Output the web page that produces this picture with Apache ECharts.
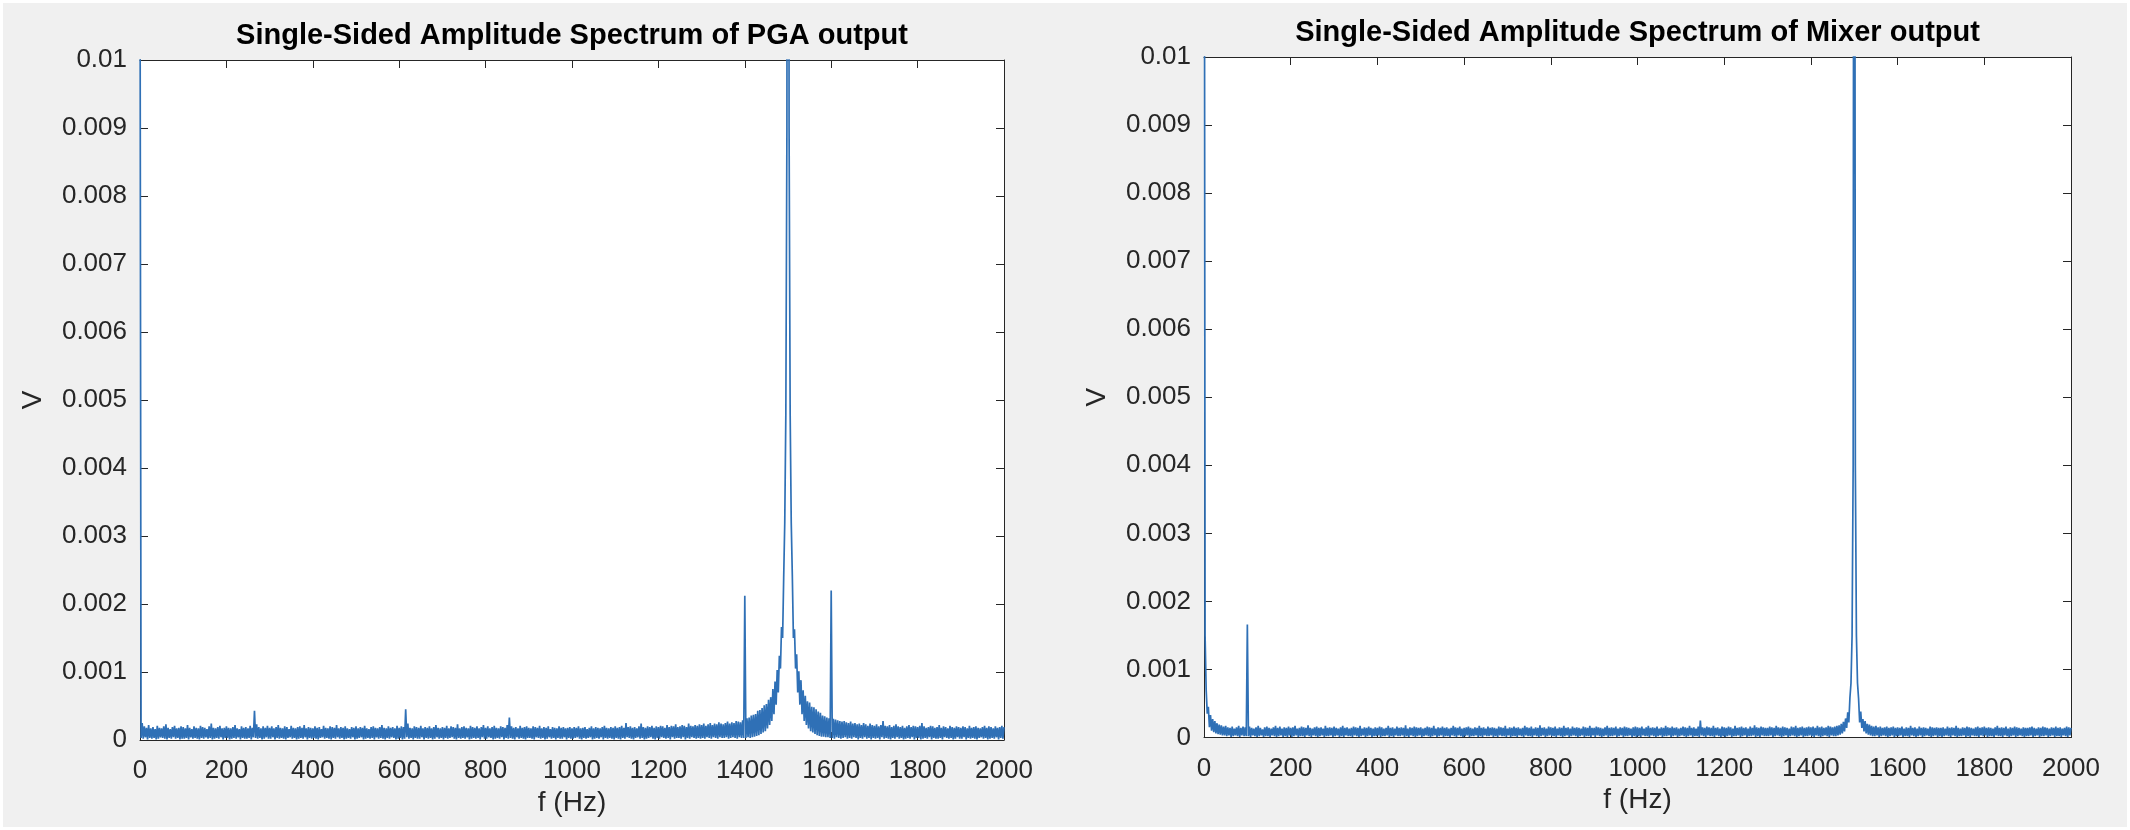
<!DOCTYPE html>
<html>
<head>
<meta charset="utf-8">
<script src="https://cdn.jsdelivr.net/npm/echarts@6/dist/echarts.min.js"></script>
<style>
html,body{margin:0;padding:0;background:#ffffff;width:2130px;height:830px;overflow:hidden;}
#c{position:absolute;left:3px;top:3px;width:2124px;height:824px;}
</style>
</head>
<body>
<div id="c"></div>
<script>
// ---------- chart texts and ticks ----------
const titles = ['Single-Sided Amplitude Spectrum of PGA output', 'Single-Sided Amplitude Spectrum of Mixer output'];
const xName = 'f (Hz)';
const yName = 'V';
const xTicks = [0, 200, 400, 600, 800, 1000, 1200, 1400, 1600, 1800, 2000];
const xTickLabels = ['0', '200', '400', '600', '800', '1000', '1200', '1400', '1600', '1800', '2000'];
const yTickLabels = ['0', '0.001', '0.002', '0.003', '0.004', '0.005', '0.006', '0.007', '0.008', '0.009', '0.01'];

// ---------- spectrum values, unit = 1e-5 V ----------
// "Upper" = local maxima of the noisy spectrum at f = 0, 5, 10 ... 2000 Hz
// "Lower" = local minima between them, at f = 2.5, 7.5 ... 1997.5 Hz
const freqStep = 5;
const UNIT = 1e-5;

const pgaUpper = [
  1200, 25, 20, 18, 22, 17, 19, 16, 21, 18, 17, 20, 23, 18, 16, 19, 21, 17, 18, 20,
  19, 17, 22, 18, 16, 20, 18, 17, 21, 19, 18, 16, 20, 24, 18, 17, 19, 21, 17, 18,
  20, 18, 17, 19, 22, 17, 16, 20, 18, 19, 17, 21, 18, 43, 23, 19, 17, 20, 18, 21,
  18, 20, 17, 19, 22, 18, 17, 20, 19, 16, 21, 18, 17, 19, 20, 18, 22, 17, 19, 18,
  17, 20, 18, 19, 16, 21, 18, 17, 20, 19, 18, 22, 17, 19, 18, 20, 17, 16, 19, 18,
  20, 17, 19, 18, 21, 17, 16, 19, 20, 18, 17, 19, 22, 18, 17, 20, 18, 19, 17, 21,
  18, 20, 19, 45, 24, 18, 17, 20, 19, 18, 21, 17, 19, 18, 20, 17, 19, 22, 18, 17,
  19, 18, 21, 17, 20, 19, 18, 23, 17, 19, 20, 18, 17, 21, 19, 18, 20, 17, 19, 22,
  18, 20, 17, 19, 21, 18, 17, 20, 19, 18, 22, 33, 20, 18, 19, 17, 21, 18, 19, 20,
  18, 17, 20, 19, 18, 21, 17, 19, 18, 20, 16, 19, 18, 17, 20, 18, 19, 17, 18, 19,
  17, 19, 18, 20, 17, 18, 19, 16, 18, 20, 17, 19, 18, 17, 19, 21, 18, 17, 19, 18,
  20, 18, 19, 21, 18, 25, 19, 20, 18, 19, 17, 20, 24, 19, 18, 20, 19, 21, 18, 20,
  19, 21, 20, 18, 22, 19, 21, 20, 23, 19, 20, 22, 21, 19, 24, 21, 20, 22, 21, 23,
  22, 24, 21, 23, 25, 22, 24, 23, 26, 24, 23, 25, 27, 24, 26, 25, 28, 27, 26, 29,
  212, 32, 33, 36, 37, 38, 43, 44, 47, 51, 53, 59, 63, 75, 86, 103, 124, 166, 238, 480,
  3000, 480, 242, 163, 126, 101, 88, 73, 65, 57, 55, 49, 48, 45, 42, 40, 36, 35, 33, 32,
  220, 31, 30, 29, 28, 27, 28, 26, 25, 27, 24, 25, 23, 24, 22, 25, 23, 21, 24, 22,
  21, 23, 20, 22, 28, 21, 20, 22, 19, 21, 23, 20, 19, 21, 18, 20, 22, 19, 21, 20,
  19, 21, 25, 20, 18, 19, 21, 20, 18, 19, 22, 18, 20, 19, 17, 21, 19, 18, 20, 19,
  18, 20, 19, 17, 21, 18, 19, 20, 18, 17, 19, 21, 18, 20, 19, 17, 20, 18, 19, 21,
  19
];
const pgaLower = [
  3, 2, 4, 1, 3, 2, 3, 1, 2, 4, 3, 2, 1, 3, 2, 4, 2, 3, 1, 2,
  2, 3, 1, 4, 2, 3, 2, 1, 3, 2, 4, 2, 3, 1, 2, 3, 2, 4, 1, 3,
  3, 1, 2, 3, 2, 4, 1, 3, 2, 2, 3, 1, 4, 3, 2, 3, 1, 2, 4, 2,
  2, 4, 1, 3, 2, 3, 2, 1, 3, 4, 2, 3, 1, 2, 3, 2, 4, 1, 3, 2,
  3, 2, 1, 3, 4, 2, 3, 2, 1, 3, 2, 4, 2, 3, 1, 2, 3, 2, 4, 1,
  2, 3, 4, 1, 2, 3, 2, 3, 1, 4, 2, 3, 2, 1, 3, 2, 4, 3, 1, 2,
  3, 1, 2, 4, 2, 3, 1, 3, 2, 2, 4, 1, 3, 2, 3, 1, 2, 4, 2, 3,
  1, 3, 2, 3, 4, 2, 1, 3, 2, 3, 2, 4, 1, 2, 3, 2, 3, 1, 4, 2,
  2, 4, 3, 1, 2, 3, 2, 4, 1, 3, 2, 3, 2, 1, 4, 2, 3, 2, 1, 3,
  3, 2, 1, 4, 3, 2, 3, 1, 2, 4, 2, 3, 1, 3, 2, 2, 4, 1, 3, 2,
  2, 3, 4, 2, 1, 3, 2, 3, 4, 1, 2, 3, 2, 4, 1, 3, 2, 3, 2, 1,
  3, 2, 1, 3, 2, 4, 3, 2, 1, 3, 4, 2, 3, 1, 2, 3, 4, 2, 1, 3,
  2, 4, 3, 2, 3, 1, 4, 2, 3, 3, 2, 4, 1, 3, 2, 4, 3, 2, 3, 2,
  3, 2, 4, 3, 2, 4, 3, 2, 4, 3, 3, 4, 2, 3, 4, 3, 2, 4, 3, 3,
  3, 4, 3, 4, 5, 6, 7, 9, 11, 13, 17, 22, 28, 38, 52, 70, 105, 150, 320, 900,
  900, 320, 150, 105, 70, 52, 38, 28, 22, 17, 13, 11, 9, 7, 6, 5, 5, 4, 4, 3,
  3, 2, 4, 3, 2, 3, 4, 2, 3, 2, 4, 3, 1, 3, 2, 4, 2, 3, 1, 3,
  2, 3, 1, 4, 2, 3, 2, 1, 3, 2, 4, 2, 3, 1, 2, 3, 2, 4, 1, 3,
  3, 1, 2, 3, 2, 4, 1, 3, 2, 2, 3, 1, 4, 3, 2, 3, 1, 2, 4, 2,
  2, 4, 1, 3, 2, 3, 2, 1, 3, 4, 2, 3, 1, 2, 3, 2, 4, 1, 3, 2
];

const mixUpper = [
  2000, 70, 45, 33, 27, 24, 21, 19, 18, 16, 17, 15, 14, 16, 13, 15, 17, 14, 16, 15,
  166, 16, 14, 13, 15, 17, 14, 12, 15, 16, 14, 13, 15, 17, 14, 16, 13, 15, 14, 16,
  14, 15, 17, 13, 14, 16, 15, 14, 18, 14, 13, 15, 16, 14, 15, 13, 17, 14, 15, 14,
  16, 14, 13, 15, 17, 14, 15, 13, 14, 16, 15, 14, 17, 13, 15, 14, 16, 14, 13, 15,
  14, 16, 15, 13, 14, 17, 14, 15, 13, 16, 14, 15, 14, 18, 13, 15, 14, 16, 15, 14,
  15, 13, 14, 16, 15, 14, 17, 13, 15, 14, 16, 14, 15, 13, 14, 17, 15, 14, 16, 13,
  14, 15, 16, 14, 13, 15, 14, 17, 14, 15, 13, 16, 14, 15, 14, 13, 16, 15, 14, 17,
  13, 15, 14, 16, 14, 15, 13, 14, 17, 15, 14, 16, 13, 15, 14, 18, 14, 15, 13, 16,
  15, 14, 16, 13, 15, 14, 17, 14, 15, 13, 16, 14, 15, 14, 13, 16, 15, 14, 17, 14,
  14, 16, 15, 14, 13, 15, 17, 14, 15, 14, 16, 13, 15, 14, 16, 15, 14, 13, 15, 16,
  15, 14, 16, 13, 15, 17, 14, 15, 14, 16, 13, 15, 14, 17, 15, 14, 16, 14, 15, 13,
  14, 16, 15, 14, 17, 14, 15, 13, 16, 25, 15, 14, 16, 15, 14, 17, 14, 15, 13, 16,
  15, 14, 16, 15, 13, 17, 14, 15, 16, 14, 15, 13, 16, 14, 18, 15, 14, 16, 15, 14,
  14, 16, 15, 14, 17, 15, 14, 16, 15, 14, 13, 16, 15, 17, 14, 15, 16, 14, 15, 16,
  15, 16, 14, 17, 15, 16, 14, 15, 17, 16, 15, 16, 17, 18, 20, 23, 28, 37, 58, 150,
  2500, 150, 57, 38, 27, 24, 20, 19, 17, 16, 17, 15, 16, 14, 15, 16, 14, 15, 16, 14,
  15, 14, 16, 13, 15, 14, 17, 14, 15, 13, 16, 14, 15, 14, 13, 16, 15, 14, 15, 14,
  14, 15, 13, 16, 14, 15, 14, 17, 14, 13, 15, 14, 16, 15, 14, 13, 15, 16, 14, 15,
  16, 14, 15, 14, 13, 15, 17, 14, 15, 14, 16, 13, 15, 14, 16, 15, 14, 13, 15, 14,
  14, 15, 16, 14, 13, 15, 14, 16, 15, 14, 13, 15, 14, 16, 14, 15, 13, 14, 16, 15,
  14
];
const mixLower = [
  150, 35, 15, 10, 8, 6, 5, 4, 3, 3, 2, 3, 1, 2, 3, 2, 1, 3, 2, 2,
  2, 1, 3, 2, 1, 2, 3, 1, 2, 2, 1, 3, 2, 1, 2, 3, 1, 2, 1, 3,
  1, 2, 3, 1, 2, 2, 1, 3, 2, 1, 3, 2, 1, 2, 3, 1, 2, 2, 3, 1,
  2, 3, 1, 2, 1, 3, 2, 2, 1, 3, 2, 1, 2, 3, 1, 2, 3, 1, 2, 2,
  3, 1, 2, 2, 3, 1, 2, 1, 3, 2, 2, 3, 1, 2, 1, 3, 2, 1, 2, 3,
  1, 2, 3, 2, 1, 2, 3, 1, 2, 3, 1, 2, 2, 1, 3, 2, 1, 3, 2, 1,
  2, 3, 1, 2, 2, 3, 1, 2, 1, 3, 2, 2, 3, 1, 2, 1, 3, 2, 2, 1,
  3, 1, 2, 2, 1, 3, 2, 1, 3, 2, 2, 1, 3, 2, 1, 2, 3, 1, 2, 3,
  2, 2, 1, 3, 2, 1, 2, 3, 1, 2, 3, 2, 1, 2, 3, 1, 2, 2, 1, 3,
  1, 3, 2, 1, 2, 3, 1, 2, 2, 3, 1, 2, 3, 1, 2, 2, 3, 1, 2, 1,
  2, 1, 3, 2, 2, 1, 3, 2, 1, 2, 3, 1, 2, 2, 3, 1, 2, 3, 1, 2,
  3, 2, 1, 2, 3, 1, 2, 2, 1, 3, 2, 1, 3, 2, 2, 1, 3, 2, 1, 2,
  1, 2, 3, 1, 2, 2, 3, 1, 2, 3, 1, 2, 2, 3, 1, 2, 1, 3, 2, 2,
  2, 3, 1, 2, 3, 2, 1, 2, 3, 1, 2, 3, 2, 1, 2, 3, 1, 2, 2, 3,
  2, 1, 3, 2, 1, 2, 3, 2, 1, 3, 2, 2, 3, 4, 6, 9, 14, 22, 80, 400,
  400, 80, 22, 14, 9, 6, 4, 3, 2, 2, 3, 1, 2, 3, 2, 1, 2, 3, 1, 2,
  2, 3, 1, 2, 2, 1, 3, 2, 1, 2, 3, 1, 2, 3, 2, 1, 2, 3, 1, 2,
  1, 2, 3, 2, 1, 3, 2, 1, 2, 2, 3, 1, 2, 1, 3, 2, 2, 1, 3, 2,
  3, 1, 2, 2, 1, 3, 2, 2, 1, 3, 2, 1, 2, 3, 1, 2, 3, 2, 1, 2,
  2, 3, 1, 2, 3, 1, 2, 2, 3, 1, 2, 3, 1, 2, 2, 1, 3, 2, 1, 3
];

// ---------- build series data ----------
function buildSpectrum(upper, lower) {
  const out = [];
  for (let i = 0; i < upper.length; i++) {
    out.push([i * freqStep, upper[i] * UNIT]);
    if (i < lower.length) out.push([i * freqStep + freqStep / 2, lower[i] * UNIT]);
  }
  return out;
}
const pgaData = buildSpectrum(pgaUpper, pgaLower);
const mixData = buildSpectrum(mixUpper, mixLower);

// ---------- styling ----------
const FONT = "'Liberation Sans', Arial, Helvetica, sans-serif";
const AX = '#262626';
const LINE = '#2f70b6';

const grids = [
  { left: 137, top: 57, width: 864, height: 680 },
  { left: 1201, top: 54, width: 867, height: 680.5 }
];

const xAxes = [], yAxes = [], series = [], titleList = [];
const datasets = [pgaData, mixData];

grids.forEach(function (g, gi) {
  const common = {
    gridIndex: gi, type: 'value', min: xTicks[0], max: xTicks[xTicks.length - 1],
    interval: xTicks[1] - xTicks[0],
    splitLine: { show: false },
    axisLine: { show: true, onZero: false, lineStyle: { color: AX, width: 1 } },
    axisTick: { show: true, inside: true, length: 8, lineStyle: { color: AX, width: 1 } }
  };
  xAxes.push(Object.assign({}, common, {
    position: 'bottom',
    axisLabel: {
      show: true, margin: 18, fontSize: 26, color: AX, fontFamily: FONT,
      formatter: function (v) { const k = xTicks.indexOf(v); return k >= 0 ? xTickLabels[k] : ''; }
    },
    name: xName, nameLocation: 'middle', nameGap: 49,
    nameTextStyle: { fontSize: 28, color: AX, fontFamily: FONT }
  }));
  xAxes.push(Object.assign({}, common, {
    position: 'top', axisLabel: { show: false }
  }));
  const ycommon = {
    gridIndex: gi, type: 'value', min: 0, max: 0.01, interval: 0.001,
    splitLine: { show: false },
    axisLine: { show: true, onZero: false, lineStyle: { color: AX, width: 1 } },
    axisTick: { show: true, inside: true, length: 8, lineStyle: { color: AX, width: 1 } }
  };
  yAxes.push(Object.assign({}, ycommon, {
    position: 'left',
    axisLabel: {
      show: true, margin: 13, fontSize: 26, color: AX, fontFamily: FONT,
      padding: [4, 0, 0, 0],
      formatter: function (v) { return yTickLabels[Math.round(v / 0.001)]; }
    },
    name: yName, nameLocation: 'middle', nameGap: 93, nameRotate: 90,
    nameTextStyle: { fontSize: 28, color: AX, fontFamily: FONT }
  }));
  yAxes.push(Object.assign({}, ycommon, {
    position: 'right', axisLabel: { show: false }
  }));
  series.push({
    type: 'line', xAxisIndex: gi * 2, yAxisIndex: gi * 2,
    data: datasets[gi], showSymbol: false, symbol: 'none',
    sampling: false, clip: true, animation: false,
    lineStyle: { color: LINE, width: 1.7 },
    z: 3
  });
  titleList.push({
    text: titles[gi],
    left: g.left + g.width / 2, top: gi === 0 ? 18 : 15.5,
    textAlign: 'center', padding: 0,
    textStyle: { fontSize: 29, fontWeight: 'bold', color: '#000', fontFamily: FONT }
  });
});

const chart = echarts.init(document.getElementById('c'), null, { renderer: 'canvas' });
chart.setOption({
  backgroundColor: '#f0f0f0',
  animation: false,
  title: titleList,
  grid: grids.map(function (g) {
    return Object.assign({ show: true, backgroundColor: '#ffffff', borderWidth: 0, containLabel: false }, g);
  }),
  xAxis: xAxes,
  yAxis: yAxes,
  series: series
});
</script>
</body>
</html>
